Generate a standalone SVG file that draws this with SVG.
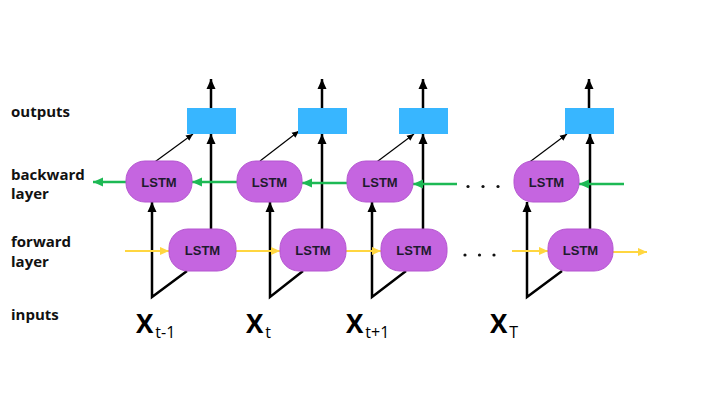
<svg xmlns="http://www.w3.org/2000/svg" width="720" height="405" viewBox="0 0 720 405">
<style>
.lbl{font-family:"Open Sans","Liberation Sans",sans-serif;font-weight:700;font-size:15px;fill:#111}
.lstm rect{fill:#C565E0;stroke:#B455D0;stroke-width:1}
.lstm text{font-family:"Liberation Sans","Open Sans",sans-serif;font-weight:700;font-size:13px;fill:#1E1B2E;text-anchor:middle}
.out{fill:#38B6FF}
.x{font-family:"Open Sans","Liberation Sans",sans-serif;font-weight:700;fill:#000}
.blk{stroke:#000;stroke-width:2.5;fill:none;marker-end:url(#ab)}
.thin{stroke:#000;stroke-width:1.2;fill:none;marker-end:url(#at)}
.grn{stroke:#1DB954;stroke-width:2.5;fill:none;marker-end:url(#ag)}
.yel{stroke:#FFD640;stroke-width:2.2;fill:none;marker-end:url(#ay)}
.dot{fill:#111}
</style>
<defs>
<marker id="ab" markerUnits="userSpaceOnUse" markerWidth="10" markerHeight="10" viewBox="0 0 10 10" refX="10" refY="5" orient="auto"><path d="M0,0.5 L10,5 L0,9.5 Z" fill="#000"/></marker>
<marker id="at" markerUnits="userSpaceOnUse" markerWidth="7" markerHeight="7" viewBox="0 0 10 10" refX="10" refY="5" orient="auto"><path d="M0,0.5 L10,5 L0,9.5 Z" fill="#000"/></marker>
<marker id="ag" markerUnits="userSpaceOnUse" markerWidth="10" markerHeight="10" viewBox="0 0 10 10" refX="10" refY="5" orient="auto"><path d="M0,0.5 L10,5 L0,9.5 Z" fill="#1DB954"/></marker>
<marker id="ay" markerUnits="userSpaceOnUse" markerWidth="9" markerHeight="9" viewBox="0 0 10 10" refX="10" refY="5" orient="auto"><path d="M0,0.5 L10,5 L0,9.5 Z" fill="#FFD640"/></marker>
</defs>
<rect width="720" height="405" fill="#fff"/>

<g id="labels">
<text class="lbl" x="11" y="117">outputs</text>
<text class="lbl" x="11" y="180">backward</text>
<text class="lbl" x="11" y="199">layer</text>
<text class="lbl" x="11" y="247">forward</text>
<text class="lbl" x="11" y="267">layer</text>
<text class="lbl" x="11" y="320">inputs</text>
</g>

<g id="connectors">
<line class="blk" x1="211" y1="108" x2="211" y2="79"/>
<line class="blk" x1="322" y1="108" x2="322" y2="79"/>
<line class="blk" x1="423" y1="108" x2="423" y2="79"/>
<line class="blk" x1="589" y1="108" x2="589" y2="79"/>
<line class="blk" x1="211" y1="229" x2="211" y2="134"/>
<line class="blk" x1="322" y1="229" x2="322" y2="134"/>
<line class="blk" x1="423" y1="229" x2="423" y2="134"/>
<line class="blk" x1="590" y1="229" x2="590" y2="134"/>
<line class="thin" x1="152" y1="164" x2="193" y2="134"/>
<line class="thin" x1="260" y1="161" x2="299" y2="131"/>
<line class="thin" x1="374" y1="164" x2="414" y2="134"/>
<line class="thin" x1="527" y1="164" x2="567" y2="134"/>
<polyline class="blk" points="187,271 152,297 152,202"/>
<polyline class="blk" points="303,271 270,297 270,202"/>
<polyline class="blk" points="406,271 372,297 372,202"/>
<polyline class="blk" points="562,271 527,297 527,202"/>
<line class="grn" x1="126" y1="182" x2="93" y2="182"/>
<line class="grn" x1="237" y1="182" x2="192" y2="182"/>
<line class="grn" x1="347" y1="183" x2="302" y2="183"/>
<line class="grn" x1="457" y1="184" x2="413" y2="184"/>
<line class="grn" x1="624" y1="184" x2="579" y2="184"/>
<line class="yel" x1="125" y1="251" x2="169" y2="251"/>
<line class="yel" x1="236" y1="251" x2="280" y2="251"/>
<line class="yel" x1="346" y1="251" x2="381" y2="251"/>
<line class="yel" x1="512" y1="251" x2="548" y2="251"/>
<line class="yel" x1="613" y1="252" x2="647" y2="252"/>
</g>

<g id="dots">
<circle class="dot" cx="468" cy="186.5" r="1.6"/>
<circle class="dot" cx="483" cy="186.5" r="1.6"/>
<circle class="dot" cx="498" cy="186.5" r="1.6"/>
<circle class="dot" cx="465" cy="255" r="1.6"/>
<circle class="dot" cx="479.5" cy="255" r="1.6"/>
<circle class="dot" cx="494" cy="255" r="1.6"/>
</g>

<g id="out1"><rect class="out" x="187" y="108" width="49" height="26"/></g>
<g id="out2"><rect class="out" x="298" y="108" width="49" height="26"/></g>
<g id="out3"><rect class="out" x="399" y="108" width="49" height="26"/></g>
<g id="out4"><rect class="out" x="565" y="108" width="49" height="26"/></g>

<g id="bwd1" class="lstm"><rect x="126" y="161" width="66" height="41" rx="19"/><text x="159" y="186.5">LSTM</text></g>
<g id="bwd2" class="lstm"><rect x="237" y="161" width="65" height="41" rx="19"/><text x="269.5" y="186.5">LSTM</text></g>
<g id="bwd3" class="lstm"><rect x="347" y="161" width="66" height="41" rx="19"/><text x="380" y="186.5">LSTM</text></g>
<g id="bwd4" class="lstm"><rect x="514" y="161" width="65" height="41" rx="19"/><text x="546.5" y="186.5">LSTM</text></g>

<g id="fwd1" class="lstm"><rect x="169" y="229" width="67" height="42" rx="19"/><text x="202.5" y="254.5">LSTM</text></g>
<g id="fwd2" class="lstm"><rect x="280" y="229" width="66" height="42" rx="19"/><text x="313" y="254.5">LSTM</text></g>
<g id="fwd3" class="lstm"><rect x="381" y="229" width="66" height="42" rx="19"/><text x="414" y="254.5">LSTM</text></g>
<g id="fwd4" class="lstm"><rect x="548" y="229" width="65" height="42" rx="19"/><text x="580.5" y="254.5">LSTM</text></g>

<g id="inputs">
<text class="x" x="136" y="332.5" font-size="26">X<tspan font-size="16" font-weight="400" dx="2" dy="5.5">t-1</tspan></text>
<text class="x" x="246" y="332.5" font-size="26">X<tspan font-size="16" font-weight="400" dx="2" dy="5.5">t</tspan></text>
<text class="x" x="346" y="332.5" font-size="26">X<tspan font-size="16" font-weight="400" dx="2" dy="5.5">t+1</tspan></text>
<text class="x" x="490" y="332.5" font-size="26">X<tspan font-size="16" font-weight="400" dx="2" dy="5.5">T</tspan></text>
</g>
</svg>
